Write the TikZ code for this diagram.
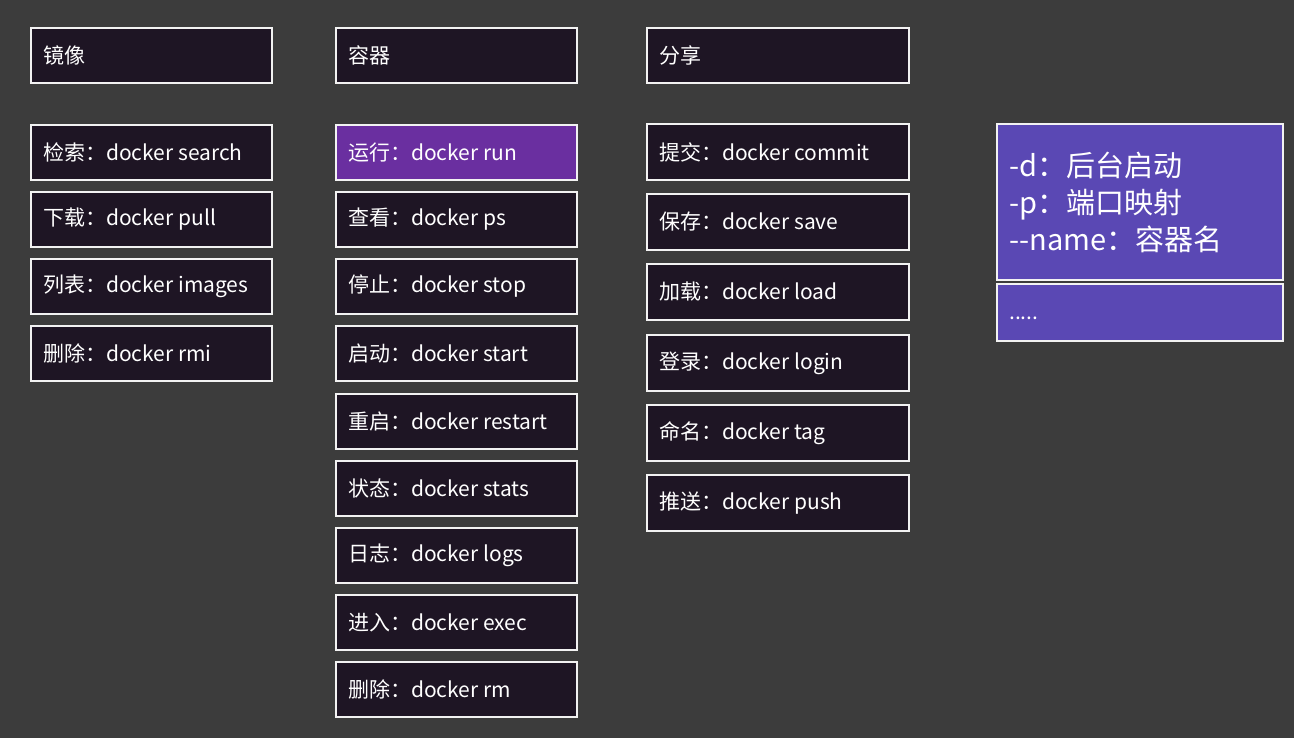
\documentclass[tikz,border=0pt]{standalone}
\usepackage{fontspec}
\setmainfont{Noto Sans CJK SC}
\begin{document}
\begin{tikzpicture}[x=1pt,y=-1pt,
  bx/.style={draw=white!90!gray,line width=1.2pt,fill=boxdark,inner sep=0pt},
  tx/.style={anchor=west,text=white,font=\fontsize{21}{24}\selectfont,inner sep=0pt},
  bigtx/.style={anchor=north west,text=white,font=\fontsize{29}{37}\selectfont,align=left,inner sep=0pt}]
\definecolor{bg}{HTML}{3C3C3C}
\definecolor{boxdark}{HTML}{1E1524}
\definecolor{runpurple}{HTML}{6A2FA0}
\definecolor{optblue}{HTML}{5A48B4}
\fill[bg] (0,0) rectangle (1294,738);
\useasboundingbox (0,0) rectangle (1294,738);
\newcommand{\cbox}[6]{%
  \draw[bx] (#2,#3) rectangle (#4,#5);
  \node[tx] (#1) at (#2+12,{(#3+#5)/2}) {#6};}
% column 1
\cbox{h1}{31}{28}{272}{83}{镜像}
\cbox{a1}{31}{125}{272}{180}{检索：docker search}
\cbox{a2}{31}{192}{272}{247}{下载：docker pull}
\cbox{a3}{31}{259}{272}{314}{列表：docker images}
\cbox{a4}{31}{326}{272}{381}{删除：docker rmi}
% column 2
\cbox{h2}{336}{28}{577}{83}{容器}
\draw[bx,fill=runpurple] (336,125) rectangle (577,180);
\node[tx] (b1) at (348,152.5) {运行：docker run};
\cbox{b2}{336}{192}{577}{247}{查看：docker ps}
\cbox{b3}{336}{259}{577}{314}{停止：docker stop}
\cbox{b4}{336}{326}{577}{381}{启动：docker start}
\cbox{b5}{336}{394}{577}{449}{重启：docker restart}
\cbox{b6}{336}{461}{577}{516}{状态：docker stats}
\cbox{b7}{336}{528}{577}{583}{日志：docker logs}
\cbox{b8}{336}{595}{577}{650}{进入：docker exec}
\cbox{b9}{336}{662}{577}{717}{删除：docker rm}
% column 3
\cbox{h3}{647}{28}{909}{83}{分享}
\cbox{c1}{647}{124}{909}{180}{提交：docker commit}
\cbox{c2}{647}{194}{909}{250}{保存：docker save}
\cbox{c3}{647}{264}{909}{320}{加载：docker load}
\cbox{c4}{647}{335}{909}{391}{登录：docker login}
\cbox{c5}{647}{405}{909}{461}{命名：docker tag}
\cbox{c6}{647}{475}{909}{531}{推送：docker push}
% options
\draw[bx,fill=optblue] (997,124) rectangle (1283,280);
\node[bigtx] (o1) at (1009,152) {-d：后台启动\\-p：端口映射\\-{}-name：容器名};
\draw[bx,fill=optblue] (997,284) rectangle (1283,341);
\node[tx] (o2) at (1009,318) {.....};
\end{tikzpicture}
\end{document}
